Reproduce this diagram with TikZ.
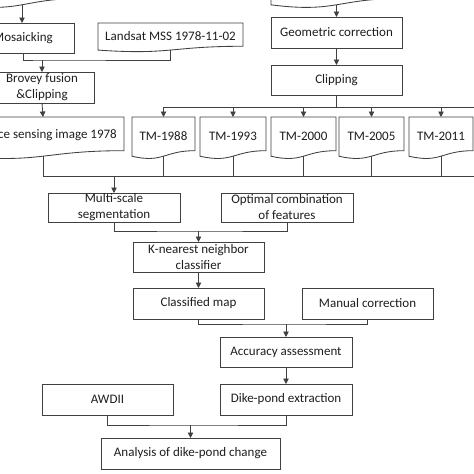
\documentclass[tikz,border=0pt]{standalone}
\usepackage{fontspec}
\setmainfont{Carlito}
\usetikzlibrary{arrows.meta,calc}
\definecolor{lncol}{HTML}{404040}
\definecolor{txcol}{HTML}{1E1E1E}
\tikzset{
  lnst/.style={draw=lncol, line width=0.85pt},
  arr/.style={lnst, -{Triangle[length=5.5pt,width=5.5pt]}},
  txt/.style={text=txcol, inner sep=0pt, align=center},
  boxst/.style={lnst, txt, inner sep=0pt, outer sep=0pt}
}
\newcommand\mkdoc[6]{%
  \draw[lnst] (#2,#4) -- (#3,#4) -- (#3,{#4+0.802*#5}) .. controls ({(#2+#3)/2},{#4+0.802*#5}) and ({(#2+#3)/2},{#4+1.1075*#5}) .. (#2,{#4+0.934*#5}) -- cycle;
  \coordinate (#1-t) at ({(#2+#3)/2},#4);
  \coordinate (#1-b) at ({(#2+#3)/2},{#4+0.933*#5});
  \node[txt] (#1) at ({(#2+#3)/2},{#4+0.45*#5}) {#6};
}
\begin{document}
\begin{tikzpicture}[x=1pt,y=-1pt,font=\fontsize{13}{16}\selectfont]
\useasboundingbox (0,0) rectangle (474,474);
\clip (0,0) rectangle (474,474);
\fill[white] (0,0) rectangle (474,474);
% document shapes
\mkdoc{topL}{-38}{82}{-40}{48}{}
\mkdoc{topR}{271}{402}{-40}{48}{}
\mkdoc{landsat}{98}{243}{23}{29}{Landsat MSS 1978-11-02}
\mkdoc{rs}{-38}{124}{117}{42}{}
\node[txt, anchor=east] (rstext) at (117,135) {ce sensing image 1978};
\mkdoc{tma}{132}{195}{117}{42}{TM-1988}
\mkdoc{tmb}{200}{266}{117}{42}{TM-1993}
\mkdoc{tmc}{271}{336}{117}{42}{TM-2000}
\mkdoc{tmd}{339}{404}{117}{42}{TM-2005}
\mkdoc{tme}{409}{473}{117}{42}{TM-2011}
% boxes
\node[boxst, minimum width=102pt, minimum height=30pt] (mos) at (23,38) {Mosaicking};
\node[boxst, minimum width=104pt, minimum height=31pt] (brovey) at (42,87.5) {Brovey fusion\\\&Clipping};
\node[boxst, minimum width=131pt, minimum height=31pt] (geo) at (336.5,32.5) {Geometric correction};
\node[boxst, minimum width=131pt, minimum height=30pt] (clip) at (336.5,80) {Clipping};
\node[boxst, minimum width=132pt, minimum height=29pt] (seg) at (114,207.5) {Multi-scale\\segmentation};
\node[boxst, minimum width=132pt, minimum height=29pt] (opt) at (287,207.5) {Optimal combination\\of features};
\node[boxst, minimum width=131pt, minimum height=30pt] (knn) at (198.5,257) {K-nearest neighbor\\classifier};
\node[boxst, minimum width=131pt, minimum height=31pt] (cls) at (198.5,303.5) {Classified map};
\node[boxst, minimum width=131pt, minimum height=31pt] (man) at (367.5,303.5) {Manual correction};
\node[boxst, minimum width=132pt, minimum height=30pt] (acc) at (286,352) {Accuracy assessment};
\node[boxst, minimum width=132pt, minimum height=31pt] (dike) at (286,399.5) {Dike-pond extraction};
\node[boxst, minimum width=131pt, minimum height=31pt] (awd) at (107.5,399.5) {AWDII};
\node[boxst, minimum width=179pt, minimum height=31pt] (ana) at (190.5,453.5) {Analysis of dike-pond change};
% junction coordinates
\coordinate (j1) at (42,60);
\coordinate (bt) at (0,107);
\coordinate (bb) at (0,176);
\coordinate (bend) at (480,0);
\coordinate (j3) at (198.5,231);
\coordinate (j4) at (286,324);
\coordinate (j5) at (190.5,425);
% connectors
\draw[arr] (topL-b) -- (topL-b |- mos.north);
\draw[lnst] (mos.south) |- (j1) -| (landsat-b);
\draw[arr] (j1) -- (brovey.north);
\draw[arr] (brovey.south) -- (rs-t);
\draw[arr] (topR-b) -- (geo.north);
\draw[arr] (geo.south) -- (clip.north);
\draw[lnst] (clip.south) -- (clip.south |- bt);
\draw[lnst] (tma-t |- bt) -- (bend |- bt);
\foreach \t in {tma,tmb,tmc,tmd,tme}{
  \draw[arr] (\t-t |- bt) -- (\t-t);
  \draw[lnst] (\t-b) -- (\t-b |- bb);
}
\draw[lnst] (rs-b) -- (rs-b |- bb) -- (bend |- bb);
\draw[arr] (seg.north |- bb) -- (seg.north);
\draw[lnst] (seg.south) |- (j3) -| (opt.south);
\draw[arr] (j3) -- (knn.north);
\draw[arr] (knn.south) -- (cls.north);
\draw[lnst] (cls.south) |- (j4) -| (man.south);
\draw[arr] (j4) -- (acc.north);
\draw[arr] (acc.south) -- (dike.north);
\draw[lnst] (awd.south) |- (j5) -| (dike.south);
\draw[arr] (j5) -- (ana.north);
\end{tikzpicture}
\end{document}
